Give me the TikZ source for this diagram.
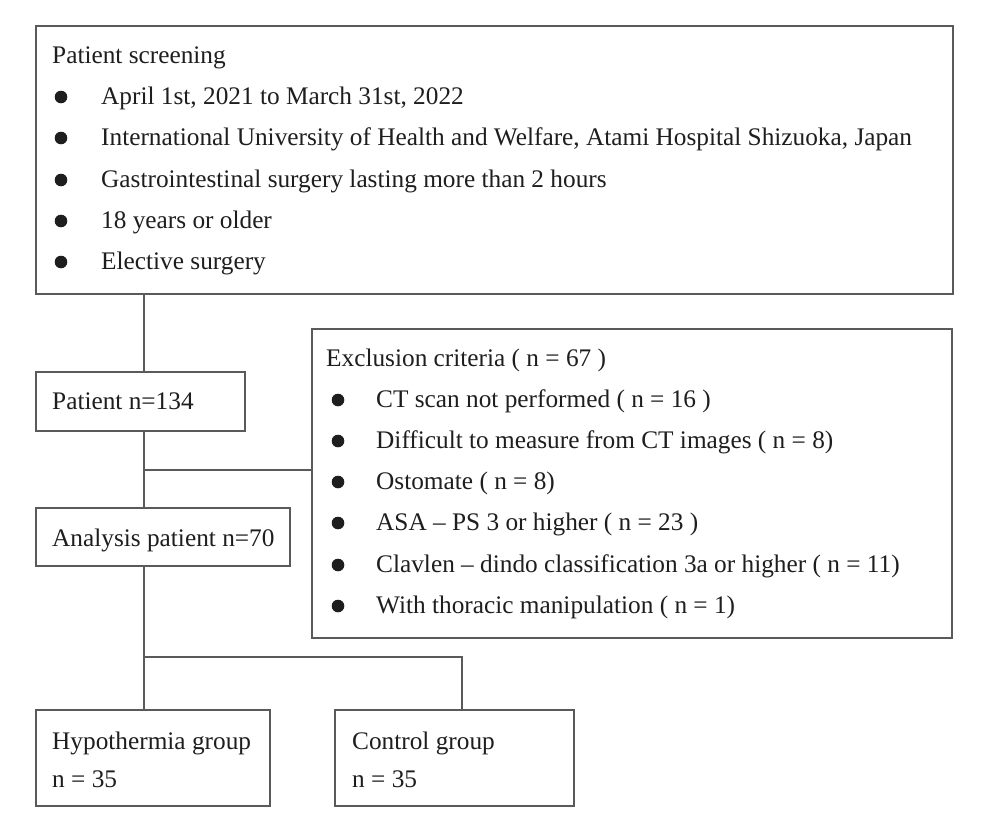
\documentclass[tikz,border=0pt]{standalone}
\usepackage{fontspec}
\setmainfont{Liberation Serif}
\definecolor{linegray}{HTML}{5A5A5A}
\definecolor{textblack}{HTML}{1E1E1E}
\begin{document}
\begin{tikzpicture}[x=1pt,y=-1pt,
  box/.style={draw=linegray, line width=1.5pt, rectangle, inner sep=0pt, outer sep=0pt, anchor=north west},
  txt/.style={anchor=base west, inner sep=0pt, font=\fontsize{25.3}{30}\selectfont, text=textblack},
  conn/.style={draw=linegray, line width=1.5pt},
  bulletdot/.style={fill=textblack}]
\useasboundingbox[fill=white] (0,0) rectangle (986,835);

% boxes
\node[box, minimum width=917, minimum height=268] (screen) at (36,26) {};
\node[box, minimum width=209, minimum height=59] (patient) at (36,372) {};
\node[box, minimum width=640, minimum height=309] (excl) at (312,329) {};
\node[box, minimum width=254, minimum height=58] (analysis) at (36,508) {};
\node[box, minimum width=234, minimum height=96] (hypo) at (36,710) {};
\node[box, minimum width=239, minimum height=96] (control) at (335,710) {};

% screening text
\node[txt] (t0) at (52,63) {Patient screening};
\foreach \yy/\tt [count=\i] in {104/{April 1st, 2021 to March 31st, 2022},
  145/{International University of Health and Welfare, Atami Hospital Shizuoka, Japan},
  187/{Gastrointestinal surgery lasting more than 2 hours},
  228/{18 years or older},
  269/{Elective surgery}}{
  \fill[bulletdot] (61,\yy-7) circle (6.3);
  \node[txt] (s\i) at (101,\yy) {\tt};
}

% exclusion text
\node[txt] (e0) at (326,366) {Exclusion criteria ( n = 67 )};
\foreach \yy/\tt [count=\i] in {407/{CT scan not performed ( n = 16 )},
  448/{Difficult to measure from CT images ( n = 8)},
  489/{Ostomate ( n = 8)},
  530/{ASA – PS 3 or higher ( n = 23 )},
  572/{Clavlen – dindo classification 3a or higher ( n = 11)},
  613/{With thoracic manipulation ( n = 1)}}{
  \fill[bulletdot] (338,\yy-7) circle (6.3);
  \node[txt] (x\i) at (376,\yy) {\tt};
}

% other box texts
\node[txt] (pt) at (52,409) {Patient n=134};
\node[txt] (at) at (52,546) {Analysis patient n=70};
\node[txt] (h1) at (52,749) {Hypothermia group};
\node[txt] (h2) at (52,787) {n = 35};
\node[txt] (c1) at (352,749) {Control group};
\node[txt] (c2) at (352,787) {n = 35};

% connectors
\coordinate (vx) at (144,0);
\coordinate (vx2) at (462,0);
\coordinate (br1) at (144,470);
\coordinate (br2) at (144,657);
\draw[conn] (vx |- screen.south) -- (vx |- patient.north);
\draw[conn] (vx |- patient.south) -- (vx |- analysis.north);
\draw[conn] (br1) -- (br1 -| excl.west);
\draw[conn] (vx |- analysis.south) -- (vx |- hypo.north);
\draw[conn] (br2) -| (vx2 |- control.north);
\end{tikzpicture}
\end{document}
